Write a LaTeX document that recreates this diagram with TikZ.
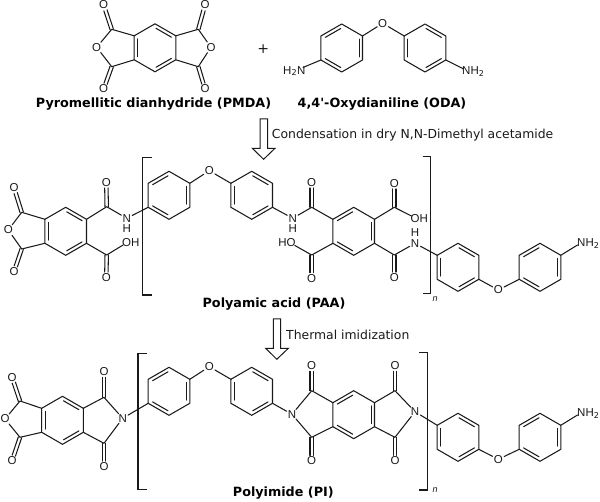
\documentclass[tikz,border=0pt]{standalone}
\usepackage{fontspec}
\setmainfont{DejaVu Sans}
\newfontfamily\atomfont{Liberation Sans}
\usetikzlibrary{calc}
\definecolor{ink}{HTML}{1A1A1A}
\tikzset{
  bond/.style={draw=ink,line width=1.05pt,line join=round,line cap=round},
  atom/.style={circle,inner sep=0.2pt,text=ink,font=\atomfont\fontsize{11.5}{12}\selectfont},
  grp/.style={inner sep=0.5pt,text=ink,font=\atomfont\fontsize{11.5}{12}\selectfont},
  caption/.style={inner sep=0,text=black,font=\fontsize{12.75}{14}\selectfont\bfseries},
  cond/.style={inner sep=0,anchor=west,text=ink,font=\fontsize{12.4}{14}\selectfont},
  nlab/.style={inner sep=0,text=ink,font=\atomfont\itshape\fontsize{9}{9}\selectfont},
  bigarrow/.style={draw=ink,line width=1pt,fill=white,line join=miter},
  bracket/.style={draw=ink,line width=1.15pt}
}
% inner ring line, a to b running clockwise on the page
\newcommand{\inner}[2]{\draw[bond] ($(#1)!.13!(#2)!3.4pt!-90:(#2)$) -- ($(#2)!.13!(#1)!3.4pt!90:(#1)$);}
\newcommand{\hexa}[3]{%
  \coordinate (#1t) at (#2,#3-24);
  \coordinate (#1ur) at (#2+20.8,#3-12);
  \coordinate (#1lr) at (#2+20.8,#3+12);
  \coordinate (#1b) at (#2,#3+24);
  \coordinate (#1ll) at (#2-20.8,#3+12);
  \coordinate (#1ul) at (#2-20.8,#3-12);
  \draw[bond] (#1t)--(#1ur)--(#1lr)--(#1b)--(#1ll)--(#1ul)--cycle;}
\newcommand{\ringA}[3]{\hexa{#1}{#2}{#3}\inner{#1t}{#1ur}\inner{#1lr}{#1b}\inner{#1ll}{#1ul}}
\newcommand{\ringB}[3]{\hexa{#1}{#2}{#3}\inner{#1ul}{#1t}\inner{#1ur}{#1lr}\inner{#1b}{#1ll}}
% carbonyl: c = carbon coordinate, o = oxygen node
\newcommand{\carbonyl}[2]{%
  \draw[bond,shorten >=5.6pt] ($(#1)!1.7pt!90:(#2)$) -- ($(#2)!1.7pt!-90:(#1)$);
  \draw[bond,shorten >=5.6pt] ($(#1)!1.7pt!-90:(#2)$) -- ($(#2)!1.7pt!90:(#1)$);}
\newcommand{\bonds}[1]{\draw[bond] #1;}
\begin{document}
\begin{tikzpicture}[x=1pt,y=-1pt]
\useasboundingbox[fill=white] (0,0) rectangle (600,502);

% ---------- PMDA ----------
\ringA{p}{155}{47.8}
\node[atom] (pOl) at (96.7,47.3) {O};
\node[atom] (pOr) at (211,47.3) {O};
\node[atom] (pO1) at (103.7,5) {O};
\node[atom] (pO2) at (103.7,89) {O};
\node[atom] (pO3) at (205,5) {O};
\node[atom] (pO4) at (205,89) {O};
\coordinate (pC1) at (111.7,29.3);
\coordinate (pC2) at (111.7,66.7);
\coordinate (pC3) at (198.3,29.3);
\coordinate (pC4) at (198.3,66.7);
\bonds{(pul)--(pC1)--(pOl)--(pC2)--(pll)}
\bonds{(pur)--(pC3)--(pOr)--(pC4)--(plr)}
\carbonyl{pC1}{pO1}\carbonyl{pC2}{pO2}\carbonyl{pC3}{pO3}\carbonyl{pC4}{pO4}
\node[inner sep=0,font=\fontsize{14}{14}\selectfont,text=ink] (plus) at (263.3,49) {+};

% ---------- ODA ----------
\ringB{oa}{341.7}{48}
\ringA{ob}{425}{48}
\node[atom] (oO) at (382.7,23.3) {O};
\bonds{(oaur)--(oO)--(obul)}
\node[grp,anchor=west] (oN1) at (282.5,71) {H$_{\mathrm{2}}$N};
\node[grp,anchor=west] (oN2) at (461.5,71.5) {NH$_{\mathrm{2}}$};
\bonds{(oall)--($(oN1.north east)+(-3,2)$)}
\bonds{(oblr)--($(oN2.north west)+(2,3)$)}

\node[caption] (capP) at (153.5,104.3) {Pyromellitic dianhydride (PMDA)};
\node[caption] (capO) at (382,104.3) {4,4\textquotesingle-Oxydianiline (ODA)};

% ---------- arrow 1 ----------
\draw[bigarrow] (260,119)--(267.5,119)--(267.5,148.3)--(275,148.3)--(263.6,159.3)--(252.3,148.3)--(260,148.3)--cycle;
\node[cond] (t1) at (271.7,135) {Condensation in dry N,N-Dimethyl acetamide};

% ---------- PAA ----------
\ringA{a}{65.7}{231.3}
\node[atom] (aOl) at (8.3,230) {O};
\node[atom] (aO1) at (14,187.7) {O};
\node[atom] (aO2) at (14,271.7) {O};
\coordinate (aC1) at (21.7,212.3);
\coordinate (aC2) at (21.7,249);
\bonds{(aul)--(aC1)--(aOl)--(aC2)--(all)}
\carbonyl{aC1}{aO1}\carbonyl{aC2}{aO2}
\coordinate (aC3) at (106.7,206.7);
\coordinate (aC4) at (106.7,255);
\node[atom] (aO3) at (106.3,182.3) {O};
\node[atom] (aO4) at (106.3,277.7) {O};
\carbonyl{aC3}{aO3}\carbonyl{aC4}{aO4}
\node[atom] (aN1) at (126.7,218.3) {N};
\node[atom] (aH1) at (126.7,228.3) {H};
\node[grp] (aOH) at (130.8,242.3) {OH};
\bonds{(aur)--(aC3)--(aN1)}
\bonds{(alr)--(aC4)--($(aOH.south west)+(1.5,-2)$)}
\ringB{b}{169}{195.3}
\ringA{c}{251.7}{195.3}
\node[atom] (aO5) at (209.3,170.7) {O};
\bonds{(bur)--(aO5)--(cul)}
\bonds{(aN1)--(bll)}
\node[atom] (aN2) at (292.7,218.3) {N};
\node[atom] (aH2) at (292.7,228.3) {H};
\node[grp] (aHO) at (287,242.7) {HO};
\ringB{d}{353.7}{231.3}
\coordinate (aC5) at (311.7,207.3);
\coordinate (aC6) at (311.7,255);
\coordinate (aC7) at (394.3,207.3);
\coordinate (aC8) at (394.3,255);
\node[atom] (aO6) at (311.7,182.3) {O};
\node[atom] (aO7) at (311.7,278.3) {O};
\node[atom] (aO8) at (394.3,183.3) {O};
\node[atom] (aO9) at (394.3,277.7) {O};
\carbonyl{aC5}{aO6}\carbonyl{aC6}{aO7}\carbonyl{aC7}{aO8}\carbonyl{aC8}{aO9}
\bonds{(clr)--(aN2)--(aC5)--(dul)}
\bonds{($(aHO.south east)+(-1.5,-2)$)--(aC6)--(dll)}
\node[grp] (aOH2) at (419.3,218.3) {OH};
\node[atom] (aN3) at (415,243.3) {N};
\node[atom] (aH3) at (415,232.3) {H};
\bonds{(dur)--(aC7)--($(aOH2.north west)+(1.5,2.5)$)}
\bonds{(dlr)--(aC8)--(aN3)}
\ringA{e}{458}{267.3}
\ringB{f}{540}{267.3}
\node[atom] (aO10) at (498.3,290) {O};
\bonds{(aN3)--(eul)}
\bonds{(elr)--(aO10)--(fll)}
\node[grp,anchor=west] (aNH2) at (576.5,243.5) {NH$_{\mathrm{2}}$};
\bonds{(fur)--($(aNH2.west)+(1,1.5)$)}
\draw[bracket] (151.5,157.3)--(142.7,157.3)--(142.7,295)--(151.5,295);
\draw[bracket] (422.7,156.7)--(430.7,156.7)--(430.7,293.3)--(422.7,293.3);
\node[nlab] (an) at (435,299) {n};
\node[caption] (capA) at (274,304) {Polyamic acid (PAA)};

% ---------- arrow 2 ----------
\draw[bigarrow] (273.3,319)--(280.7,319)--(280.7,348.3)--(288.3,348.3)--(276.8,359.3)--(265.7,348.3)--(273.3,348.3)--cycle;
\node[cond] (t2) at (286,335) {Thermal imidization};

% ---------- PI ----------
\ringA{g}{62.5}{420.3}
\node[atom] (iOl) at (5,419) {O};
\node[atom] (iO1) at (12,377.3) {O};
\node[atom] (iO2) at (12,461) {O};
\coordinate (iC1) at (20,401);
\coordinate (iC2) at (20,437.3);
\bonds{(gul)--(iC1)--(iOl)--(iC2)--(gll)}
\carbonyl{iC1}{iO1}\carbonyl{iC2}{iO2}
\coordinate (iC3) at (104,397.3);
\coordinate (iC4) at (104,443.3);
\node[atom] (iO3) at (104,371.7) {O};
\node[atom] (iO4) at (104,466.7) {O};
\carbonyl{iC3}{iO3}\carbonyl{iC4}{iO4}
\node[atom] (iN1) at (122.7,418.3) {N};
\bonds{(gur)--(iC3)--(iN1)--(iC4)--(glr)}
\ringB{h}{169}{391.3}
\ringA{j}{251.7}{391.3}
\node[atom] (iO5) at (209.3,366.7) {O};
\bonds{(iN1)--(hll)}
\bonds{(hur)--(iO5)--(jul)}
\node[atom] (iN2) at (292,414.3) {N};
\ringB{k}{353.7}{414.7}
\coordinate (iC5) at (311.7,390.7);
\coordinate (iC6) at (311.7,437.3);
\coordinate (iC7) at (395,390.7);
\coordinate (iC8) at (395,437.3);
\node[atom] (iO6) at (311.7,365.7) {O};
\node[atom] (iO7) at (311.7,461) {O};
\node[atom] (iO8) at (395,365.7) {O};
\node[atom] (iO9) at (395,461) {O};
\carbonyl{iC5}{iO6}\carbonyl{iC6}{iO7}\carbonyl{iC7}{iO8}\carbonyl{iC8}{iO9}
\node[atom] (iN3) at (415,411.7) {N};
\bonds{(jlr)--(iN2)--(iC5)--(kul)}
\bonds{(iN2)--(iC6)--(kll)}
\bonds{(kur)--(iC7)--(iN3)--(iC8)--(klr)}
\ringA{m}{458}{437.3}
\ringB{q}{540}{437.3}
\node[atom] (iO10) at (498.3,459.3) {O};
\bonds{(iN3)--(mul)}
\bonds{(mlr)--(iO10)--(qll)}
\node[grp,anchor=west] (iNH2) at (576.5,413.5) {NH$_{\mathrm{2}}$};
\bonds{(qur)--($(iNH2.west)+(1,1.5)$)}
\draw[bracket] (146.7,353.3)--(138,353.3)--(138,489.3)--(146.7,489.3);
\draw[bracket] (419.3,352.7)--(427.7,352.7)--(427.7,490)--(419.3,490);
\node[nlab] (in) at (435,490) {n};
\node[caption] (capI) at (283.3,493) {Polyimide (PI)};
\end{tikzpicture}
\end{document}
